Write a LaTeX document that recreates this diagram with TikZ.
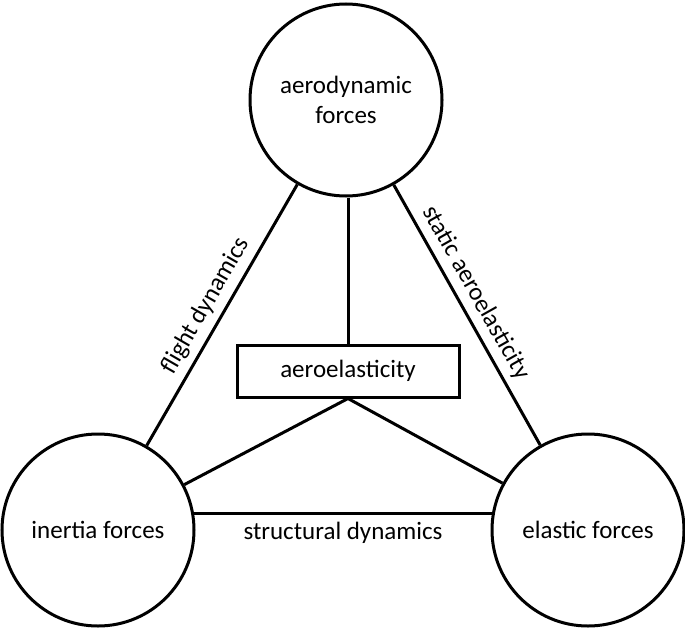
\documentclass[tikz,border=0pt]{standalone}
\usepackage{fontspec}
\setmainfont{Carlito}
\begin{document}
\begin{tikzpicture}[x=1pt,y=-1pt,line width=3pt,
  circ/.style={draw,circle,minimum size=192pt,inner sep=0pt,align=center,font=\fontsize{25}{30}\selectfont},
  lab/.style={font=\fontsize{25}{30}\selectfont}]
\useasboundingbox (0,0) rectangle (685,629);
\node[circ] (T) at (346,100) {aerodynamic\\forces};
\node[circ] (L) at (98,530) {inertia forces};
\node[circ] (R) at (588,530) {elastic forces};
\node[draw,lab,minimum width=222pt,minimum height=52pt] (B) at (348,371) {aeroelasticity};
\draw (T) -- (L) node[lab,pos=0.5,above=3pt,sloped] {flight dynamics};
\draw (T) -- (R) node[lab,pos=0.45,above=3pt,sloped] {static aeroelasticity};
\draw (T.south -| B.north) -- (B.north);
\draw (B.south) -- (L);
\draw (B.south) -- (R);
\draw (L.10) -- (R.170) node[lab,midway,below=4pt] {structural dynamics};
\end{tikzpicture}
\end{document}
